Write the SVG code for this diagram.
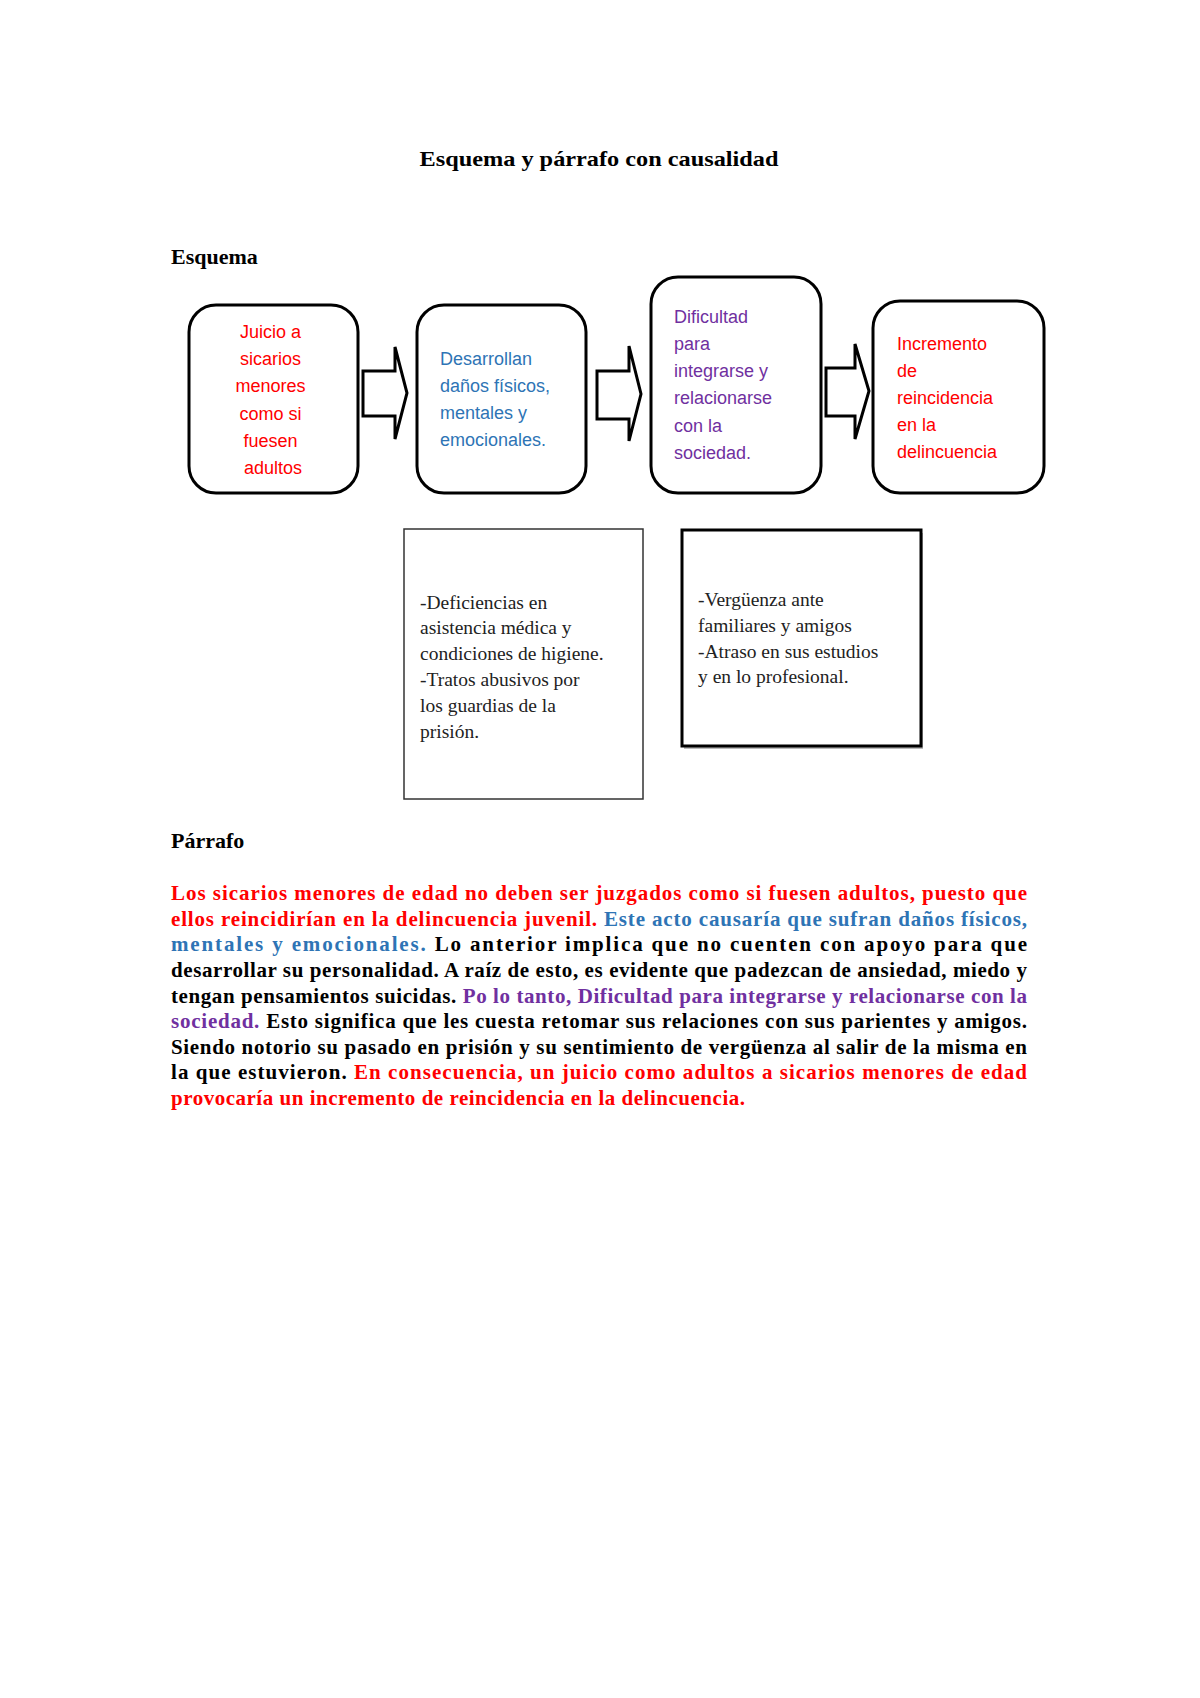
<svg xmlns="http://www.w3.org/2000/svg" width="1200" height="1698" viewBox="0 0 1200 1698">
<defs>
<style>
.head{font-family:"Liberation Serif","DejaVu Serif",serif;font-weight:bold;font-size:22px;fill:#000}
.node{fill:#fff;stroke:#000;stroke-width:3}
.sans{font-family:"Liberation Sans","DejaVu Sans",sans-serif;font-size:18px}
.note{font-family:"Liberation Serif","DejaVu Serif",serif;font-size:19.5px;fill:#222}
.par{font-family:"Liberation Serif","DejaVu Serif",serif;font-weight:bold;font-size:21px}
.red{fill:#ff0000}
.blue{fill:#2e74b5}
.purple{fill:#7030a0}
.black{fill:#000}
.arrow{fill:#fff;stroke:#000;stroke-width:3;stroke-linejoin:miter}
</style>
</defs>
<rect width="1200" height="1698" fill="#fff"/>
<text class="head" x="599" y="166" text-anchor="middle" textLength="359" lengthAdjust="spacingAndGlyphs">Esquema y párrafo con causalidad</text>
<text class="head" x="171" y="264">Esquema</text>

<g id="node1">
<rect class="node" x="189" y="305" width="169" height="188" rx="27"/>
<text class="sans red" text-anchor="middle">
<tspan x="273" y="338">Juicio a</tspan>
<tspan x="273" y="365">sicarios</tspan>
<tspan x="273" y="392">menores</tspan>
<tspan x="273" y="420">como si</tspan>
<tspan x="273" y="447">fuesen</tspan>
<tspan x="273" y="474">adultos</tspan>
</text>
</g>
<g id="node2">
<rect class="node" x="417" y="305" width="169" height="188" rx="27"/>
<text class="sans blue">
<tspan x="440" y="365">Desarrollan</tspan>
<tspan x="440" y="392">daños físicos,</tspan>
<tspan x="440" y="419">mentales y</tspan>
<tspan x="440" y="446">emocionales.</tspan>
</text>
</g>
<g id="node3">
<rect class="node" x="651" y="277" width="170" height="216" rx="27"/>
<text class="sans purple">
<tspan x="674" y="323">Dificultad</tspan>
<tspan x="674" y="350">para</tspan>
<tspan x="674" y="377">integrarse y</tspan>
<tspan x="674" y="404">relacionarse</tspan>
<tspan x="674" y="432">con la</tspan>
<tspan x="674" y="459">sociedad.</tspan>
</text>
</g>
<g id="node4">
<rect class="node" x="873" y="301" width="171" height="192" rx="27"/>
<text class="sans red">
<tspan x="897" y="350">Incremento</tspan>
<tspan x="897" y="377">de</tspan>
<tspan x="897" y="404">reincidencia</tspan>
<tspan x="897" y="431">en la</tspan>
<tspan x="897" y="458">delincuencia</tspan>
</text>
</g>

<g id="connectors">
<polygon class="arrow" points="363,371 395,371 395,347 407,393 395,439 395,416 363,416"/>
<polygon class="arrow" points="597,371 629,371 629,346 641,394 629,441 629,419 597,419"/>
<polygon class="arrow" points="826,368 855,368 855,344 869,391 855,439 855,416 826,416"/>
</g>

<g id="note1">
<rect x="404" y="529" width="239" height="270" fill="#fff" stroke="#333" stroke-width="1.5"/>
<text class="note">
<tspan x="420" y="609">-Deficiencias en</tspan>
<tspan x="420" y="634">asistencia médica y</tspan>
<tspan x="420" y="660">condiciones de higiene.</tspan>
<tspan x="420" y="686">-Tratos abusivos por</tspan>
<tspan x="420" y="712">los guardias de la</tspan>
<tspan x="420" y="738">prisión.</tspan>
</text>
</g>
<g id="note2">
<rect x="684" y="533" width="239" height="216" fill="#bbb"/>
<rect x="682" y="530" width="239" height="216" fill="#fff" stroke="#000" stroke-width="3"/>
<text class="note">
<tspan x="698" y="606">-Vergüenza ante</tspan>
<tspan x="698" y="632">familiares y amigos</tspan>
<tspan x="698" y="658">-Atraso en sus estudios</tspan>
<tspan x="698" y="683">y en lo profesional.</tspan>
</text>
</g>

<text class="head" x="171" y="848">Párrafo</text>
<g id="paragraph" class="par">
<text y="900.3" x="171" textLength="856" lengthAdjust="spacing"><tspan class="red">Los sicarios menores de edad no deben ser juzgados como si fuesen adultos, puesto que</tspan></text>
<text y="925.9" x="171" textLength="856" lengthAdjust="spacing"><tspan class="red">ellos reincidirían en la delincuencia juvenil.</tspan><tspan class="blue"> Este acto causaría que sufran daños físicos,</tspan></text>
<text y="951.4" x="171" textLength="856" lengthAdjust="spacing"><tspan class="blue">mentales y emocionales.</tspan><tspan class="black"> Lo anterior implica que no cuenten con apoyo para que</tspan></text>
<text y="977" x="171" textLength="856" lengthAdjust="spacing"><tspan class="black">desarrollar su personalidad. A raíz de esto, es evidente que padezcan de ansiedad, miedo y</tspan></text>
<text y="1002.6" x="171" textLength="856" lengthAdjust="spacing"><tspan class="black">tengan pensamientos suicidas.</tspan><tspan class="purple"> Po lo tanto, Dificultad para integrarse y relacionarse con la</tspan></text>
<text y="1028.2" x="171" textLength="856" lengthAdjust="spacing"><tspan class="purple">sociedad.</tspan><tspan class="black"> Esto significa que les cuesta retomar sus relaciones con sus parientes y amigos.</tspan></text>
<text y="1053.7" x="171" textLength="856" lengthAdjust="spacing"><tspan class="black">Siendo notorio su pasado en prisión y su sentimiento de vergüenza al salir de la misma en</tspan></text>
<text y="1079.3" x="171" textLength="856" lengthAdjust="spacing"><tspan class="black">la que estuvieron.</tspan><tspan class="red"> En consecuencia, un juicio como adultos a sicarios menores de edad</tspan></text>
<text y="1104.9" x="171" textLength="574" lengthAdjust="spacing"><tspan class="red">provocaría un incremento de reincidencia en la delincuencia.</tspan></text>
</g>
</svg>
